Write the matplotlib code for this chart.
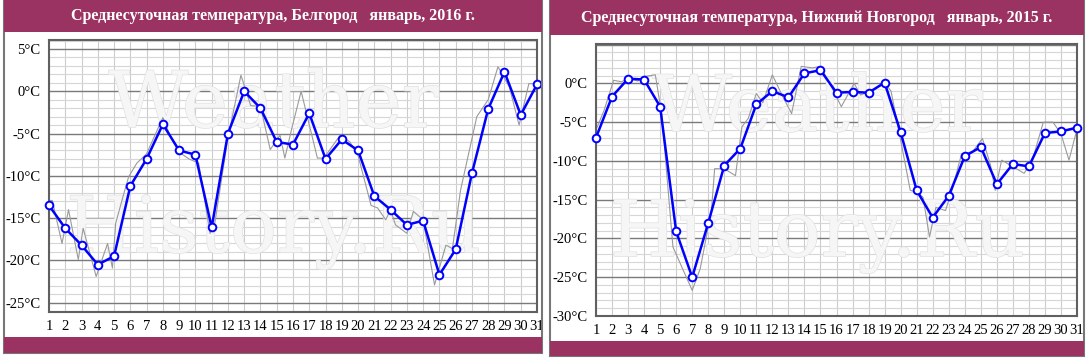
#import neccessary libraries
import matplotlib.pyplot as plt
import matplotlib.patheffects as pe
from matplotlib.patches import Rectangle

#data
days = list(range(1, 32))
day_labels = [str(d) for d in days]

belg_title = 'Среднесуточная температура, Белгород   январь, 2016 г.'
belg_avg = [-13.5, -16.2, -18.2, -20.5, -19.5, -11.2, -8.0, -3.9, -7.0, -7.5,
            -16.1, -5.0, 0.0, -2.0, -6.0, -6.3, -2.6, -8.0, -5.7, -7.0,
            -12.4, -14.0, -15.8, -15.3, -21.7, -18.7, -9.7, -2.1, 2.3, -2.8, 0.8]
belg_raw_x = [1.0, 1.2, 1.8, 2.2, 2.8, 3.1, 3.9, 4.6, 4.9, 5.1, 5.6, 5.9, 6.4, 7.0, 8.0,
              8.5, 9.0, 9.6, 10.2, 10.9, 11.2, 12.0, 12.8, 13.4, 14.0, 14.6, 15.2, 15.5,
              15.9, 16.5, 17.5, 17.9, 18.9, 19.5, 20.0, 20.8, 21.2, 21.7, 22.0, 22.3,
              23.0, 23.4, 24.0, 24.7, 25.4, 25.8, 26.3, 27.3, 28.0, 28.6, 29.3, 29.9,
              30.5, 31.0]
belg_raw_t = [-13.0, -12.9, -18.0, -14.0, -19.9, -16.2, -21.9, -18.0, -20.9, -15.6,
              -12.1, -10.1, -8.5, -7.4, -3.1, -5.5, -7.2, -8.0, -8.5, -16.8,
              -15.5, -5.5, 1.9, -1.7, -1.8, -6.9, -5.2, -7.9, -4.6, 0.0,
              -7.9, -7.9, -5.2, -6.0, -7.6, -13.5, -13.8, -15.2, -14.0, -15.8,
              -16.8, -14.2, -15.2, -22.9, -18.2, -18.6, -11.7, -3.0, -1.0, 2.9,
              0.5, -4.0, 0.9, 0.9]
belg_ticks = [5, 0, -5, -10, -15, -20, -25]

nn_title = 'Среднесуточная температура, Нижний Новгород   январь, 2015 г.'
nn_avg = [-7.0, -1.7, 0.6, 0.5, -3.0, -19.1, -25.0, -18.0, -10.6, -8.4,
          -2.7, -1.0, -1.8, 1.3, 1.7, -1.2, -1.1, -1.2, 0.1, -6.3,
          -13.8, -17.3, -14.5, -9.4, -8.2, -13.0, -10.4, -10.7, -6.4, -6.2, -5.7]
nn_raw_x = [1.0, 1.5, 2.1, 2.6, 3.0, 3.6, 4.0, 4.7, 5.1, 5.8, 7.0, 7.5, 8.2, 8.4, 9.0,
            9.7, 10.1, 10.5, 11.0, 11.4, 12.0, 12.6, 13.2, 13.8, 14.5, 15.0, 15.7,
            16.3, 17.1, 17.5, 18.3, 19.0, 19.4, 20.0, 20.6, 21.0, 21.4, 21.8, 22.2,
            22.8, 23.2, 23.8, 24.5, 25.1, 25.6, 25.9, 26.3, 26.8, 27.7, 28.2, 28.9,
            29.5, 30.0, 30.5, 31.0]
nn_raw_t = [-6.0, -3.5, 0.4, 0.2, 0.7, 0.3, 0.9, 1.1, -4.0, -21.1,
            -26.7, -23.9, -16.4, -11.0, -11.0, -11.9, -5.6, -4.5, -1.3, -2.5,
            1.1, -1.5, -3.9, 2.2, 2.0, 2.2, -0.5, -3.0, 0.0, -1.5,
            -0.8, 0.1, -1.0, -7.3, -13.8, -14.0, -14.7, -19.8, -16.0, -16.4,
            -13.8, -9.1, -8.8, -7.1, -10.5, -13.8, -9.9, -10.5, -11.6, -10.0,
            -5.0, -5.0, -6.5, -9.9, -5.9]
nn_ticks = [0, -5, -10, -15, -20, -25, -30]

W, H = 1089, 362
bar_color = '#9a3262'
serif = 'Liberation Serif'

fig = plt.figure(figsize=(W / 100, H / 100), dpi=100)
fig.patch.set_facecolor('white')


def px_rect(x0, y0, x1, y1, **kw):
    # rectangle given in pixels from the top left corner
    r = Rectangle((x0 / W, 1 - y1 / H), (x1 - x0) / W, (y1 - y0) / H,
                  transform=fig.transFigure, **kw)
    fig.add_artist(r)


def panel(box, plot, ylim, ticks, avg, raw_x, raw_t, title, tsize):
    x0, x1, top_h, bot0, bot1 = box
    # panel frame and the purple bars
    px_rect(x0, 0, x1, bot1, facecolor='none', edgecolor='#777777', lw=1.5)
    px_rect(x0, 0, x1, top_h, facecolor=bar_color, edgecolor='none')
    px_rect(x0, bot0, x1, bot1, facecolor=bar_color, edgecolor='none')
    fig.text((x0 + x1) / 2 / W, 1 - top_h / 2 / H, title, color='white',
             fontsize=tsize, fontweight='bold', family=serif,
             ha='center', va='center')

    l, t, r, b = plot
    ax = fig.add_axes([l / W, 1 - b / H, (r - l) / W, (b - t) / H])
    ax.set_xlim(1, 31)
    ax.set_ylim(*ylim)
    # grid: every day, every degree, darker every 5 degrees
    for d in days:
        ax.axvline(d, color='#cccccc', lw=0.8, zorder=0)
    lo = int(ylim[0])
    for v in range(lo, int(ylim[1]) + 1):
        if v % 5 == 0:
            ax.axhline(v, color='#7a7a7a', lw=1.0, zorder=0.5)
        else:
            ax.axhline(v, color='#d6d6d6', lw=0.8, zorder=0)
    # watermark
    for s, yy in (('Weather', 0.68), ('History.Ru', 0.22)):
        ax.text(0.46, yy, s, transform=ax.transAxes, ha='center', va='baseline',
                fontsize=56, family='DejaVu Serif', color='#f6f6f6', zorder=1,
                path_effects=[pe.withStroke(linewidth=1.0, foreground='#e2e2e2')])
    ax.plot(raw_x, raw_t, color='#9a9a9a', lw=0.8, zorder=2)
    ax.plot(days, avg, color='#0000ff', lw=1.8, marker='o', markersize=5.5,
            markerfacecolor='white', markeredgecolor='#0000ff',
            markeredgewidth=1.4, zorder=3, clip_on=False)
    ax.set_xticks(days)
    ax.set_xticklabels(day_labels, family=serif, fontsize=10.5)
    ax.set_yticks(ticks)
    ax.set_yticklabels(['%d°C' % v for v in ticks], family=serif, fontsize=10.5)
    ax.tick_params(length=0, pad=6)
    for sp in ax.spines.values():
        sp.set_color('#606060')
        sp.set_linewidth(1.5)
    return ax


panel((4, 542, 32, 337, 353), (49, 40, 537, 312), (-26.1, 6.06), belg_ticks,
      belg_avg, belg_raw_x, belg_raw_t, belg_title, 11.5)
panel((550, 1084, 35, 341, 356), (596, 44, 1077, 316), (-30, 5.08), nn_ticks,
      nn_avg, nn_raw_x, nn_raw_t, nn_title, 11.5)

plt.savefig('out.png', dpi=100)
